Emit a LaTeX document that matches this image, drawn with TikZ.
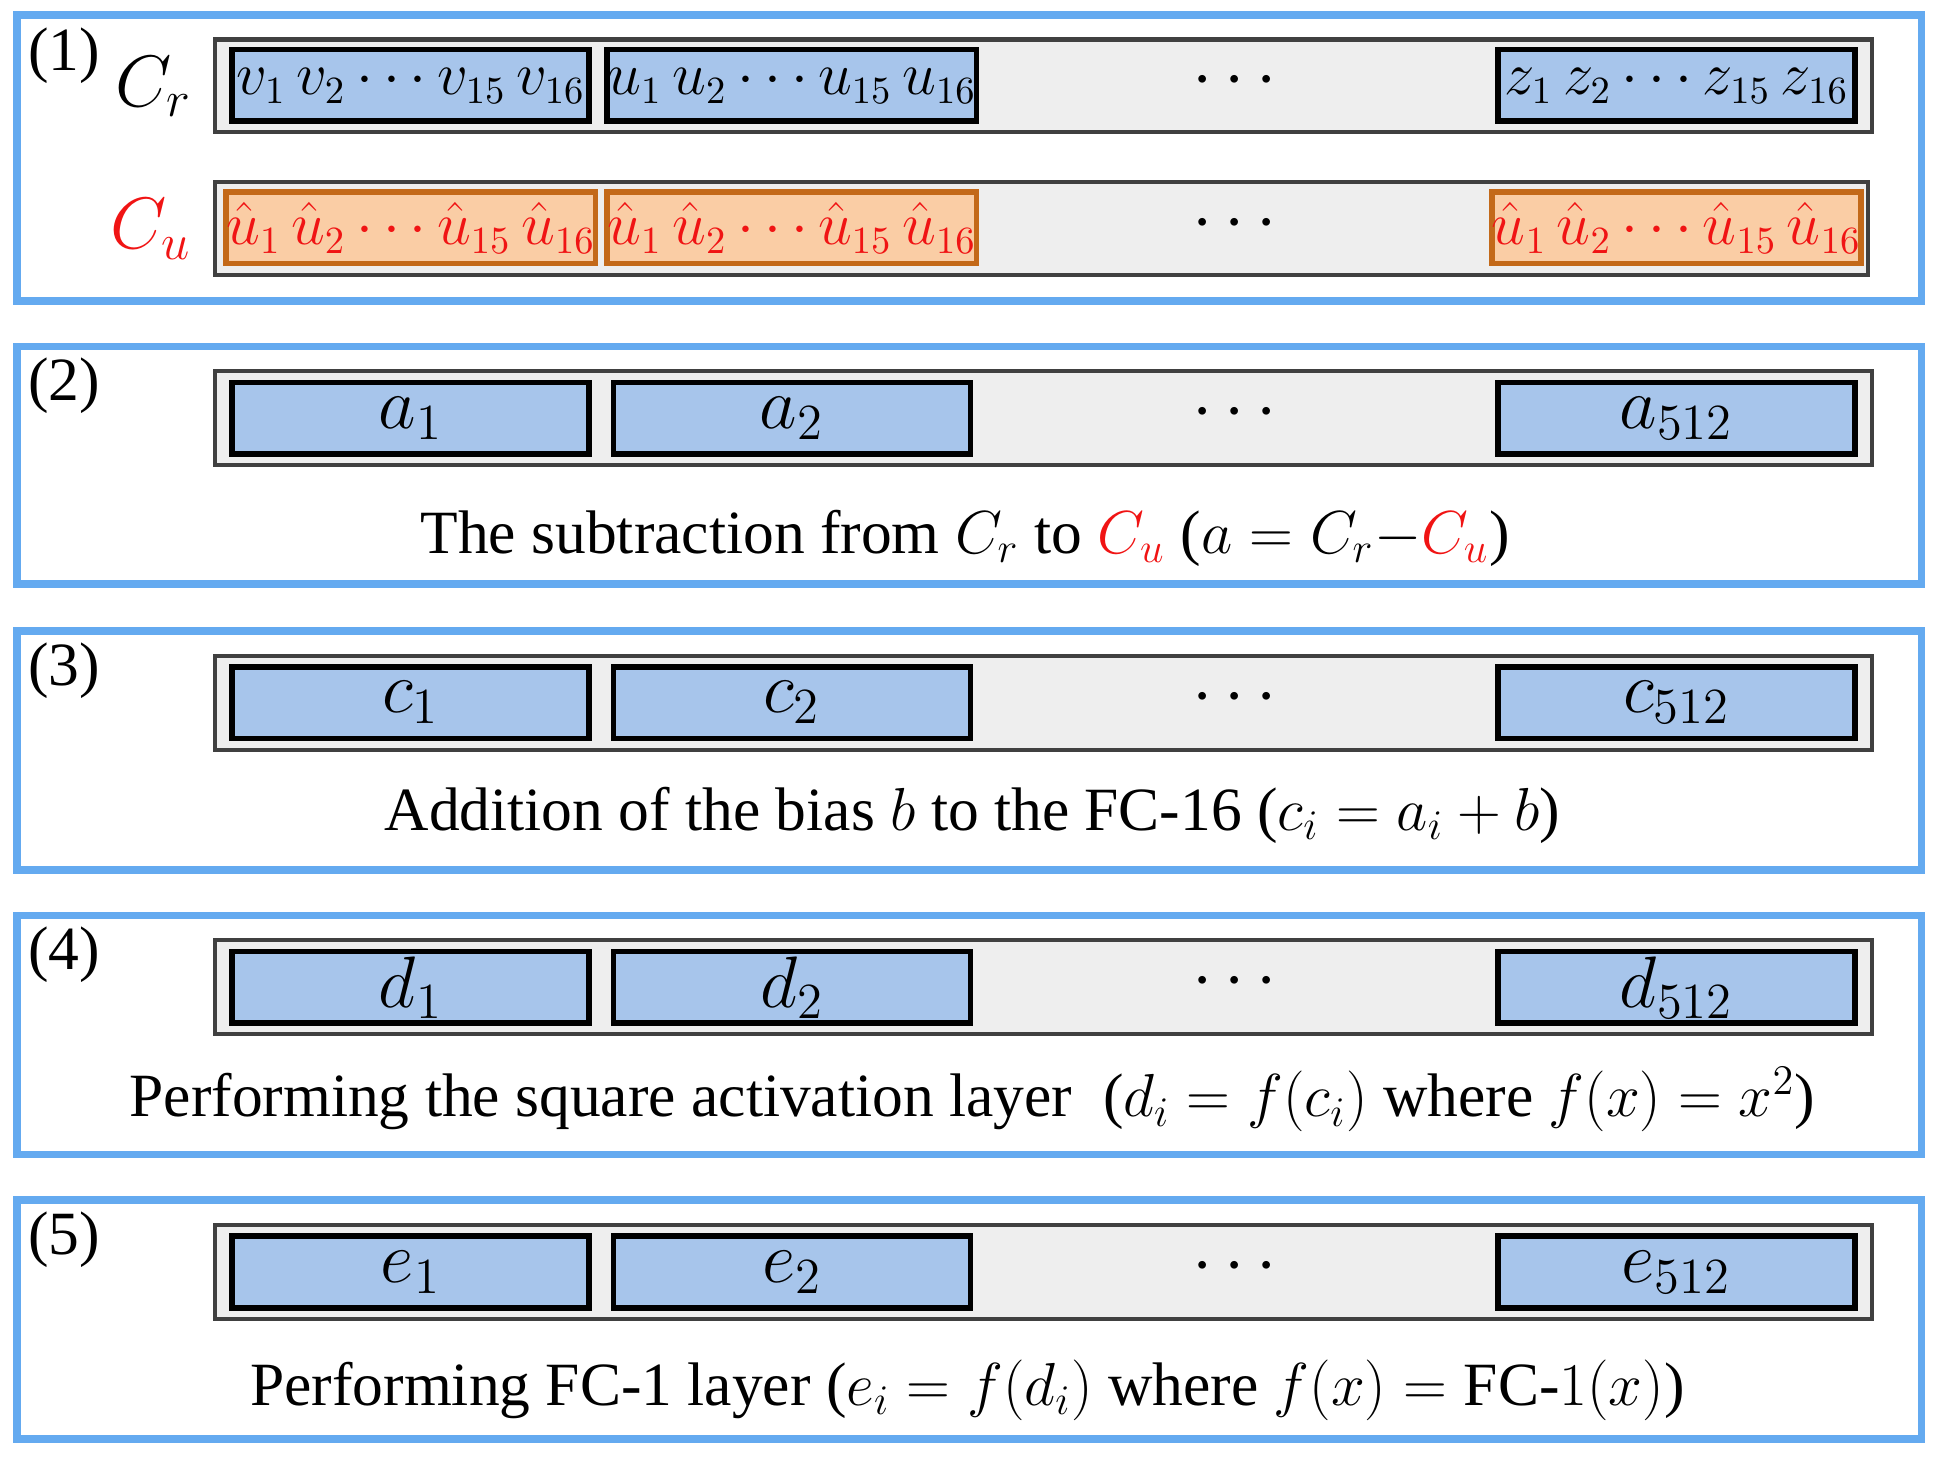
\documentclass[tikz,border=0pt]{standalone}
\usepackage{fontspec}
\setmainfont{Liberation Serif}
\definecolor{pblue}{RGB}{100,170,240}
\definecolor{cellb}{RGB}{167,197,235}
\definecolor{cello}{RGB}{250,205,165}
\definecolor{edgeo}{RGB}{195,105,25}
\definecolor{grayb}{RGB}{238,238,238}
\definecolor{redt}{RGB}{240,20,20}
\begin{document}
\begin{tikzpicture}[x=0.01237cm,y=-0.01237cm,
  panel/.style={draw=pblue,line width=2.2pt},
  strip/.style={draw=black!75,fill=grayb,line width=1.2pt},
  cell/.style={draw=black,fill=cellb,line width=1.6pt,minimum width=3.57cm,minimum height=0.717cm,inner sep=0pt},
  ocell/.style={draw=edgeo,fill=cello,line width=1.6pt,minimum width=3.57cm,minimum height=0.717cm,inner sep=0pt},
  big/.style={font=\fontsize{21}{24}\selectfont},
  mid/.style={font=\fontsize{16}{19}\selectfont},
  captxt/.style={font=\fontsize{17.5}{21}\selectfont}]
\useasboundingbox (0,0) rectangle (1568,1178);
% panels
\foreach \n/\a/\b in {p1/12/243,p2/280/472,p3/510/703,p4/740/933,p5/970/1163}
  \draw[panel] (14,\a) rectangle (1553,\b) coordinate (\n);
% panel 1
\draw[strip] (174,32) rectangle (1513,107);
\draw[strip] (174,147) rectangle (1510,222);
\node[cell,mid] (v) at (332,69) {$v_1\,v_2\cdots v_{15}\,v_{16}$};
\node[cell,mid] (u) at (640,69) {$u_1\,u_2\cdots u_{15}\,u_{16}$};
\node[cell,mid] (z) at (1355,69) {$z_1\,z_2\cdots z_{15}\,z_{16}$};
\node[big] (d1) at (998,66) {$\cdots$};
\node[ocell,mid] (h1) at (332,184) {\color{redt}$\hat u_1\,\hat u_2\cdots\hat u_{15}\,\hat u_{16}$};
\node[ocell,mid] (h2) at (640,184) {\color{redt}$\hat u_1\,\hat u_2\cdots\hat u_{15}\,\hat u_{16}$};
\node[ocell,mid] (h3) at (1355,184) {\color{redt}$\hat u_1\,\hat u_2\cdots\hat u_{15}\,\hat u_{16}$};
\node[big] (d2) at (998,181) {$\cdots$};
\node[captxt] (l1) at (52,45) {(1)};
\node[big] (cr) at (124,70) {$C_r$};
\node[big,text=redt] (cu) at (122,185) {$C_u$};
% panels 2-5
\foreach \n/\t/\y/\s in {2/300/338/a,3/530/568/c,4/760/798/d,5/990/1028/e}{
  \draw[strip] (174,\t) rectangle (1513,\t+76);
  \node[cell,big] (b\n a) at (332,\y) {$\s_1$};
  \node[cell,big] (b\n b) at (640,\y) {$\s_2$};
  \node[cell,big] (b\n c) at (1355,\y) {$\s_{512}$};
  \node[big] (dd\n) at (998,\y-4) {$\cdots$};
  \node[captxt] (l\n) at (52,\t+12) {(\n)};
}
\node[captxt] (c2) at (780,435) {The subtraction from $C_r$ to \textcolor{redt}{$C_u$} ($a=C_r-$\textcolor{redt}{$C_u$})};
\node[captxt] (c3) at (786,659) {Addition of the bias $b$ to the FC-16 ($c_i=a_i+b$)};
\node[captxt] (c4) at (786,889) {Performing the square activation layer\ \ ($d_i=f(c_i)$ where $f(x)=x^2$)};
\node[captxt] (c5) at (782,1124) {Performing FC-1 layer ($e_i=f(d_i)$ where $f(x)=\mathrm{FC}$-$1(x)$)};
\end{tikzpicture}
\end{document}
